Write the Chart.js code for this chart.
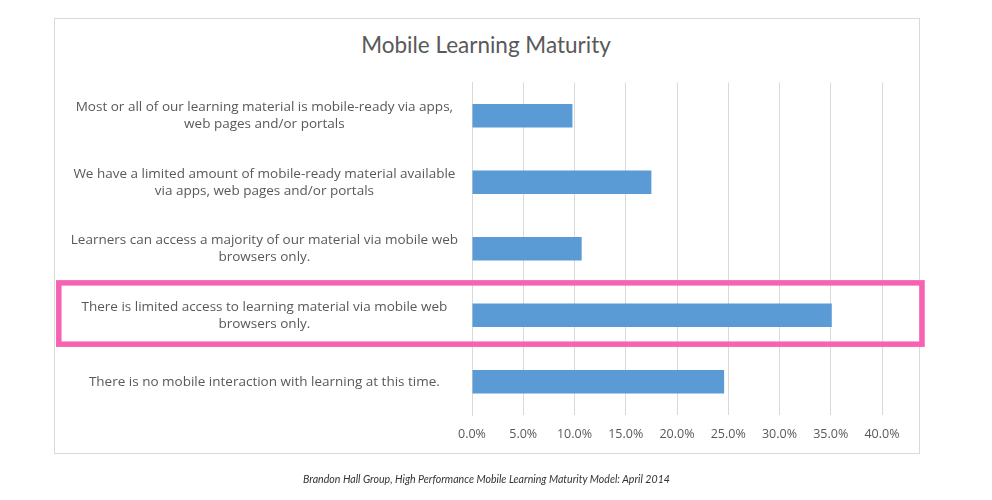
<!DOCTYPE html>
<html>
<head>
<meta charset="utf-8">
<title>Mobile Learning Maturity</title>
<script src="https://cdn.jsdelivr.net/npm/chart.js@4.4.1/dist/chart.umd.min.js"></script>
<style>
  html, body { margin: 0; padding: 0; background: #fff; }
  #wrap { position: relative; width: 992px; height: 500px; overflow: hidden; }
  #frame {
    position: absolute; left: 54px; top: 18px; width: 864px; height: 434px;
    border: 1px solid #d9d9d9;
  }
  #c { position: absolute; left: 0; top: 0; }
  #title {
    position: absolute; left: 0; width: 972px; top: 31px; text-align: center;
    font-family: Lato, sans-serif; font-size: 22.5px; line-height: 27px; color: #595959;
  }
  #caption {
    position: absolute; left: 0; width: 973px; top: 473px; text-align: center;
    font-family: Lato, sans-serif; font-style: italic; font-size: 10.6px; color: #333;
  }
</style>
</head>
<body>
<div id="wrap">
  <div id="frame"></div>
  <div id="title">Mobile Learning Maturity</div>
  <canvas id="c" width="992" height="500"></canvas>
  <div id="caption">Brandon Hall Group, High Performance Mobile Learning Maturity Model: April 2014</div>
</div>
<script>
const categories = [
  ['Most or all of our learning material is mobile-ready via apps,', 'web pages and/or portals'],
  ['We have a limited amount of mobile-ready material available', 'via apps, web pages and/or portals'],
  ['Learners can access a majority of our material via mobile web', 'browsers only.'],
  ['There is limited access to learning material via mobile web', 'browsers only.'],
  'There is no mobile interaction with learning at this time.'
];
const values = [9.8, 17.5, 10.7, 35.1, 24.6];
const tickLabels = ['0.0%', '5.0%', '10.0%', '15.0%', '20.0%', '25.0%', '30.0%', '35.0%', '40.0%'];
const highlightIndex = 3;

// pink box around the highlighted row
const highlightBox = {
  id: 'highlightBox',
  afterDraw(chart) {
    const ctx = chart.ctx;
    const y = chart.scales.y;
    const step = y.getPixelForValue(1) - y.getPixelForValue(0);
    const center = y.getPixelForValue(highlightIndex);
    const top = center - 0.487 * step;
    const bottom = center + 0.435 * step;
    const left = 58.8;
    const right = chart.chartArea.right + 40;
    ctx.save();
    ctx.strokeStyle = '#f762b2';
    ctx.lineWidth = 5.5;
    ctx.strokeRect(left, top, right - left, bottom - top);
    ctx.restore();
  }
};

const ctx = document.getElementById('c').getContext('2d');

const options = {
  responsive: false,
  animation: false,
  indexAxis: 'y',
  layout: {
    padding: { top: 82.5, left: 56, right: 110, bottom: 46 }
  },
  scales: {
    x: {
      min: 0,
      max: 40,
      grid: {
        color: '#d9d9d9',
        drawTicks: false,
      },
      border: { display: false },
      ticks: {
        stepSize: 5,
        padding: 12,
        color: '#595959',
        font: { family: 'Open Sans', size: 12.5 },
        callback: (v, i) => tickLabels[i],
      },
    },
    y: {
      grid: { display: false, drawTicks: false },
      border: { display: true, color: '#d9d9d9', width: 1 },
      afterFit: (scale) => { scale.width = 416; },
      ticks: {
        crossAlign: 'center',
        padding: 14,
        color: '#595959',
        font: { family: 'Open Sans', size: 13.5, lineHeight: 1.25 },
      },
    },
  },
  plugins: {
    legend: { display: false },
    tooltip: { enabled: false },
    title: { display: false },
  },
};

new Chart(ctx, {
  type: 'bar',
  data: {
    labels: categories,
    datasets: [
      {
        label: 'Mobile Learning Maturity',
        data: values,
        backgroundColor: '#5b9bd5',
        borderWidth: 0,
        categoryPercentage: 1,
        barPercentage: 0.35,
      },
    ],
  },
  options: options,
  plugins: [highlightBox],
});
</script>
</body>
</html>
